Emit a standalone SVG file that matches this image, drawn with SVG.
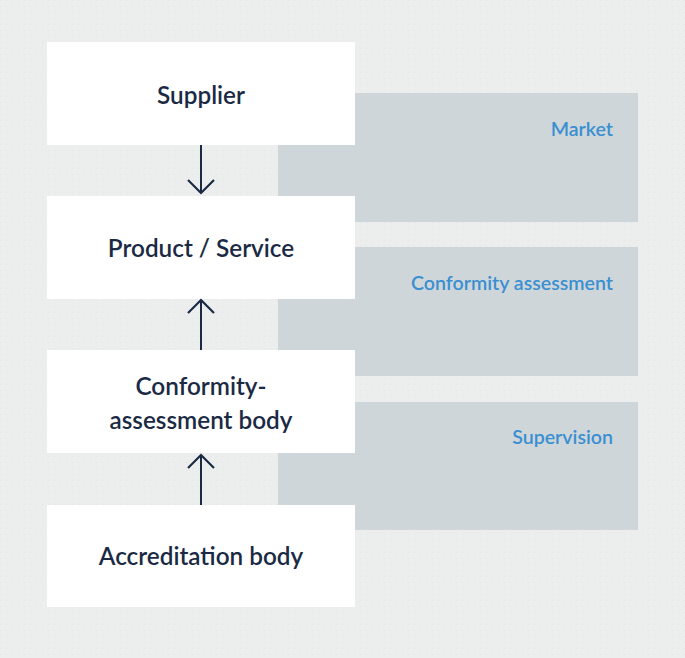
<svg xmlns="http://www.w3.org/2000/svg" width="685" height="658" viewBox="0 0 685 658">
<defs>
<pattern id="dots" width="6" height="6" patternUnits="userSpaceOnUse">
<rect width="6" height="6" fill="#eceeee"/>
<rect x="0" y="0" width="1" height="1" fill="#e2e5e5"/>
</pattern>
<marker id="chev" viewBox="0 0 16 30" refX="14" refY="15" markerWidth="16" markerHeight="30" markerUnits="userSpaceOnUse" orient="auto">
<path d="M1,2 L14,15 L1,28" fill="none" stroke="#1b2a44" stroke-width="2.2" stroke-linejoin="miter"/>
</marker>
<style>
.panel{fill:#cfd6da}
.box{fill:#ffffff}
.t{font-family:Lato,"Open Sans",sans-serif;font-size:24.3px;font-weight:600;fill:#1b2a44;text-anchor:middle}
.lbl{font-family:Lato,"Open Sans",sans-serif;font-size:19.6px;font-weight:600;fill:#3a8fd0;text-anchor:end}
.conn{stroke:#1b2a44;stroke-width:2;fill:none;marker-end:url(#chev)}
</style>
</defs>
<rect width="685" height="658" fill="url(#dots)"/>
<g id="panel-market">
<rect class="panel" x="278" y="93" width="360" height="129"/>
<text class="lbl" x="613" y="136">Market</text>
</g>
<g id="panel-conformity">
<rect class="panel" x="278" y="247" width="360" height="129"/>
<text class="lbl" x="613" y="290">Conformity assessment</text>
</g>
<g id="panel-supervision">
<rect class="panel" x="278" y="402" width="360" height="128"/>
<text class="lbl" x="613" y="444">Supervision</text>
</g>
<g id="supplier">
<rect class="box" x="47" y="42" width="308" height="103"/>
<text class="t" x="201" y="104">Supplier</text>
</g>
<g id="product">
<rect class="box" x="47" y="196" width="308" height="103"/>
<text class="t" x="201" y="257">Product / Service</text>
</g>
<g id="cab">
<rect class="box" x="47" y="350" width="308" height="103"/>
<text class="t" x="201" y="395">Conformity-</text>
<text class="t" x="201" y="429">assessment body</text>
</g>
<g id="accreditation">
<rect class="box" x="47" y="505" width="308" height="102"/>
<text class="t" x="201" y="565">Accreditation body</text>
</g>
<g id="connectors">
<line class="conn" x1="201" y1="145" x2="201" y2="193"/>
<line class="conn" x1="201" y1="350" x2="201" y2="300"/>
<line class="conn" x1="201" y1="505" x2="201" y2="455"/>
</g>
</svg>
